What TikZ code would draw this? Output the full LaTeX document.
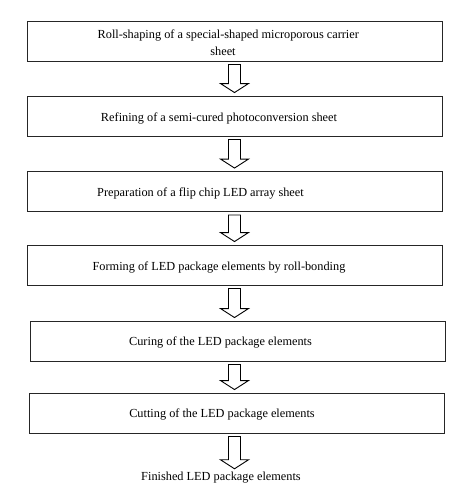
\documentclass[tikz,border=0pt]{standalone}
\usepackage{fontspec}
\setmainfont{Liberation Serif}
\usetikzlibrary{calc}
\tikzset{
  stepbox/.style={draw=black!85, line width=0.9pt, minimum width=415pt, minimum height=40pt, inner sep=0pt},
  steptext/.style={font=\fontsize{12.3}{17.5}\selectfont, align=center, inner sep=0pt, anchor=base},
  arrowline/.style={draw=black, line width=0.9pt, fill=white, line join=miter}
}
\newcommand\blockarrow[3]{% #1 column node, #2 from, #3 to
  \draw[arrowline] let \p0=(#1), \p1=(#2.south), \p2=(#3.north) in
    (\x0-6pt,\y1-3pt) -- (\x0+6pt,\y1-3pt) -- (\x0+6pt,\y2+12pt) -- (\x0+14pt,\y2+12pt)
    -- (\x0,\y2+3pt) -- (\x0-14pt,\y2+12pt) -- (\x0-6pt,\y2+12pt) -- cycle;}
\begin{document}
\begin{tikzpicture}[x=1pt,y=-1pt]
\useasboundingbox (0,0) rectangle (474,501);
\coordinate (col) at (234.5,0);
\node[stepbox] (b1) at (234.5,41) {};
\node[stepbox] (b2) at (234.5,116) {};
\node[stepbox] (b3) at (234.5,191.5) {};
\node[stepbox] (b4) at (234.5,265) {};
\node[stepbox] (b5) at (238,341) {};
\node[stepbox] (b6) at (236.5,413) {};
\node[steptext] (t1) at (228.3,55.5) {Roll-shaping of a special-shaped microporous carrier\\sheet\hspace*{10.6pt}};
\node[steptext] (t2) at (219,121) {Refining of a semi-cured photoconversion sheet};
\node[steptext] (t3) at (200.5,196) {Preparation of a flip chip LED array sheet};
\node[steptext] (t4) at (219,270) {Forming of LED package elements by roll-bonding};
\node[steptext] (t5) at (220.5,345.5) {Curing of the LED package elements};
\node[steptext] (t6) at (222,417.5) {Cutting of the LED package elements};
\node[steptext] (fin) at (221,480.5) {Finished LED package elements};
\blockarrow{col}{b1}{b2}
\blockarrow{col}{b2}{b3}
\blockarrow{col}{b3}{b4}
\blockarrow{col}{b4}{b5}
\blockarrow{col}{b5}{b6}
\blockarrow{col}{b6}{fin}
\end{tikzpicture}
\end{document}
